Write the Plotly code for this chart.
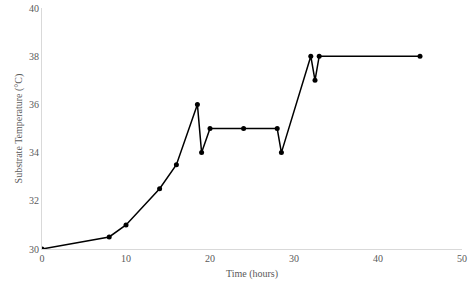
import plotly.graph_objects as go

time_hours = [0, 8, 10, 14, 16, 18.5, 19, 20, 24, 28, 28.5, 32, 32.5, 33, 45]
temperature_c = [30, 30.5, 31, 32.5, 33.5, 36, 34, 35, 35, 35, 34, 38, 37, 38, 38]
x_ticks = [0, 10, 20, 30, 40, 50]
y_ticks = [30, 32, 34, 36, 38, 40]

font_family = "Liberation Serif"
fig = go.Figure(go.Scatter(
    x=time_hours, y=temperature_c, mode="lines+markers",
    line=dict(color="black", width=1.5),
    marker=dict(color="black", size=5),
))
fig.update_layout(
    width=474, height=292, margin=dict(l=42, r=12, t=8, b=43, autoexpand=False),
    paper_bgcolor="white", plot_bgcolor="white", showlegend=False,
    font=dict(family=font_family, size=10, color="#595959"),
)
fig.update_xaxes(
    range=[0, 50], tickvals=x_ticks, showgrid=False, zeroline=False,
    showline=True, linecolor="#d9d9d9", linewidth=1, ticks="", automargin=False,
    title=dict(text="Time (hours)", font=dict(size=10, color="#595959"), standoff=6),
)
fig.update_yaxes(
    range=[30, 40], tickvals=y_ticks, showgrid=False, zeroline=False,
    showline=True, linecolor="#d9d9d9", linewidth=1, ticks="", automargin=False,
    title=dict(text="Substrate Temperature (°C)", font=dict(size=10, color="#595959"), standoff=4),
)
fig.write_html("out.html")
